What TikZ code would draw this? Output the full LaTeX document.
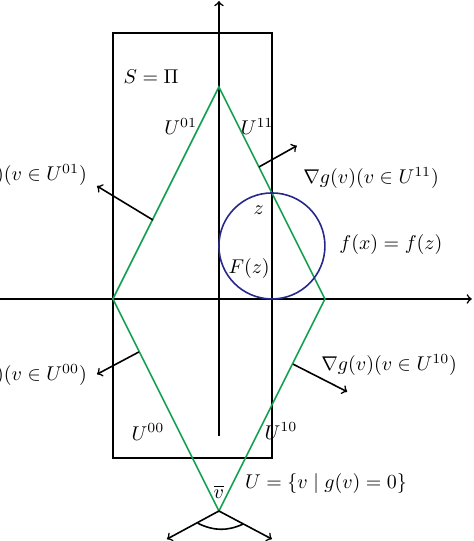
\documentclass[tikz,border=0pt]{standalone}
\usepackage{amsmath,amssymb}
\usetikzlibrary{arrows}
\definecolor{vert}{RGB}{20,160,80}
\definecolor{bleu}{RGB}{40,40,140}

\begin{document}
\begin{tikzpicture}[x=0.935cm,y=0.935cm]
\useasboundingbox (-4.13,-4.566) rectangle (4.81,5.64);
\clip (-4.13,-4.566) rectangle (4.81,5.64);

% axes et domaine
\draw [thick] (-2,-3) rectangle (1,5.02);
\draw [->, thick] (-4.2,0)--(4.77,0);
\draw [->, thick] (0,-2.58)--(0,5.62);

% losange
\coordinate (H) at (0,4);
\coordinate (G) at (-2,0);
\coordinate (D) at (2,0);
\coordinate (B) at (0,-4);
\draw [thick, vert] (H)--(D)--(B)--(G)--cycle;
\draw [thick, bleu] (1,1) circle (1);

% gradients
\draw [->, thick] (0.755,2.49)--(1.47,2.89);
\draw [->, thick] (-1.245,1.49)--(-2.30,2.13);
\draw [->, thick] (-1.51,-1.0)--(-2.30,-1.42);
\draw [->, thick] (1.40,-1.23)--(2.42,-1.75);
\draw [->, thick] (B)--(-0.98,-4.53);
\draw [->, thick] (B)--(1.0,-4.53);
\draw [thick] (-0.40,-4.23) to [bend right=25] (0.45,-4.25);

% textes
\node (S) at (-1.28,4.19) {$S=\Pi$};
\node (u01) at (-0.72,3.26) {$U^{01}$};
\node (u11) at (0.72,3.26) {$U^{11}$};
\node (g11) [right] at (1.46,2.28) {$\nabla g(v)(v\in U^{11})$};
\node (g01) [left] at (-2.36,2.34) {$\nabla g(v)(v\in U^{01})$};
\node (z) at (0.75,1.68) {$z$};
\node (Fz) at (0.57,0.58) {$F(z)$};
\node (fx) [right] at (2.14,1.02) {$f(x)=f(z)$};
\node (g00) [left] at (-2.36,-1.43) {$\nabla g(v)(v\in U^{00})$};
\node (g10) [right] at (1.80,-1.25) {$\nabla g(v)(v\in U^{10})$};
\node (u00) at (-1.34,-2.51) {$U^{00}$};
\node (u10) at (1.17,-2.49) {$U^{10}$};
\node (vb) at (0,-3.64) {$\overline{v}$};
\node (U) [right] at (0.36,-3.49) {$U=\{v\mid g(v)=0\}$};

\end{tikzpicture}
\end{document}
